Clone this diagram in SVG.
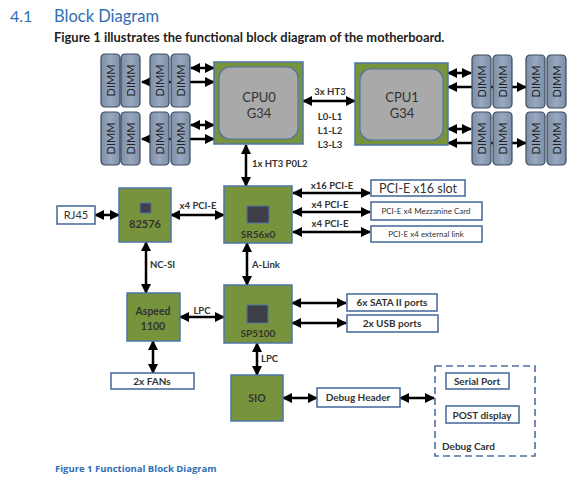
<svg xmlns="http://www.w3.org/2000/svg" width="587" height="480" viewBox="0 0 587 480">
<defs>
<marker id="ah" markerUnits="userSpaceOnUse" markerWidth="10" markerHeight="10" refX="9" refY="5" orient="auto-start-reverse" viewBox="0 0 10 10">
<path d="M0,0 L10,5 L0,10 z" fill="#000"/>
</marker>
<linearGradient id="dg" x1="0" y1="0" x2="1" y2="0">
<stop offset="0" stop-color="#7d8ea8"/>
<stop offset="0.5" stop-color="#98a8bf"/>
<stop offset="1" stop-color="#7d8ea8"/>
</linearGradient>
<g id="dimm">
<rect x="0" y="0" width="19" height="53" rx="4" fill="url(#dg)" stroke="#3c4a5e" stroke-width="1.2"/>
<text x="0" y="0" transform="translate(13.5,26.5) rotate(-90)" text-anchor="middle" class="dt">DIMM</text>
</g>
</defs>
<style>
.t{font-family:Lato,"Open Sans","Liberation Sans",sans-serif;fill:#333}
.b{font-weight:bold}
.dt{font-family:Lato,"Open Sans","Liberation Sans",sans-serif;font-size:11px;fill:#222}
.grn{fill:#77933c;stroke:#4f75a8;stroke-width:1.5}
.box{fill:#fff;stroke:#4f6fa0;stroke-width:1.6}
.chip{fill:#3f3f4a;stroke:#4f75a8;stroke-width:1}
.ln{stroke:#000;stroke-width:2.5;fill:none}
.hd{font-family:Lato,"Open Sans",sans-serif;fill:#2f6db5}
</style>
<rect width="587" height="480" fill="#fff"/>
<text x="10" y="22" class="hd" font-size="16">4.1</text>
<text x="54" y="22" class="hd" font-size="16.5">Block Diagram</text>
<text x="54" y="42" font-family="Lato,'Open Sans',sans-serif" font-size="12.9" font-weight="bold" fill="#222">Figure 1 illustrates the functional block diagram of the motherboard.</text>

<g id="connectors">
<line class="ln" x1="191" y1="68" x2="214" y2="68" marker-start="url(#ah)" marker-end="url(#ah)"/>
<line class="ln" x1="142" y1="82" x2="214" y2="82" marker-start="url(#ah)" marker-end="url(#ah)"/>
<line class="ln" x1="191" y1="125" x2="214" y2="125" marker-start="url(#ah)" marker-end="url(#ah)"/>
<line class="ln" x1="142" y1="139" x2="214" y2="139" marker-start="url(#ah)" marker-end="url(#ah)"/>
<line class="ln" x1="448" y1="73" x2="471" y2="73" marker-start="url(#ah)" marker-end="url(#ah)"/>
<line class="ln" x1="448" y1="87" x2="526" y2="87" marker-start="url(#ah)" marker-end="url(#ah)"/>
<line class="ln" x1="448" y1="129" x2="471" y2="129" marker-start="url(#ah)" marker-end="url(#ah)"/>
<line class="ln" x1="448" y1="143" x2="526" y2="143" marker-start="url(#ah)" marker-end="url(#ah)"/>
<line class="ln" x1="303" y1="101" x2="355" y2="101" marker-start="url(#ah)" marker-end="url(#ah)"/>
<line class="ln" x1="246" y1="145" x2="246" y2="186" marker-start="url(#ah)" marker-end="url(#ah)"/>
<line class="ln" x1="95" y1="215" x2="119" y2="215" marker-start="url(#ah)" marker-end="url(#ah)"/>
<line class="ln" x1="171" y1="215" x2="224" y2="215" marker-start="url(#ah)" marker-end="url(#ah)"/>
<line class="ln" x1="293" y1="193" x2="370" y2="193" marker-start="url(#ah)" marker-end="url(#ah)"/>
<line class="ln" x1="293" y1="212" x2="370" y2="212" marker-start="url(#ah)" marker-end="url(#ah)"/>
<line class="ln" x1="293" y1="232" x2="370" y2="232" marker-start="url(#ah)" marker-end="url(#ah)"/>
<line class="ln" x1="146" y1="242" x2="146" y2="293" marker-start="url(#ah)" marker-end="url(#ah)"/>
<line class="ln" x1="247" y1="243" x2="247" y2="285" marker-start="url(#ah)" marker-end="url(#ah)"/>
<line class="ln" x1="180" y1="317" x2="224" y2="317" marker-start="url(#ah)" marker-end="url(#ah)"/>
<line class="ln" x1="153" y1="341" x2="153" y2="373" marker-start="url(#ah)" marker-end="url(#ah)"/>
<line class="ln" x1="257" y1="343" x2="257" y2="375" marker-start="url(#ah)" marker-end="url(#ah)"/>
<line class="ln" x1="292" y1="303" x2="346" y2="303" marker-start="url(#ah)" marker-end="url(#ah)"/>
<line class="ln" x1="292" y1="323" x2="346" y2="323" marker-start="url(#ah)" marker-end="url(#ah)"/>
<line class="ln" x1="283" y1="398" x2="317" y2="398" marker-start="url(#ah)" marker-end="url(#ah)"/>
<line class="ln" x1="400" y1="398" x2="434" y2="398" marker-start="url(#ah)" marker-end="url(#ah)"/>
</g>

<g id="connector-labels" class="t b" font-size="9.5">
<text x="330" y="95" text-anchor="middle">3x HT3</text>
<text x="330" y="120" text-anchor="middle">L0-L1</text>
<text x="330" y="134" text-anchor="middle">L1-L2</text>
<text x="330" y="148" text-anchor="middle">L3-L3</text>
<text x="252" y="167">1x HT3 P0L2</text>
<text x="198" y="209" text-anchor="middle">x4 PCI-E</text>
<text x="332" y="189" text-anchor="middle">x16 PCI-E</text>
<text x="330" y="208" text-anchor="middle">x4 PCI-E</text>
<text x="330" y="227" text-anchor="middle">x4 PCI-E</text>
<text x="150" y="268">NC-SI</text>
<text x="252" y="268">A-Link</text>
<text x="202" y="314" text-anchor="middle">LPC</text>
<text x="261" y="362">LPC</text>
</g>

<g id="dimms-left">
<use href="#dimm" x="101" y="54"/><use href="#dimm" x="121" y="54"/>
<use href="#dimm" x="150" y="54"/><use href="#dimm" x="171" y="54"/>
<use href="#dimm" x="101" y="112"/><use href="#dimm" x="121" y="112"/>
<use href="#dimm" x="150" y="112"/><use href="#dimm" x="171" y="112"/>
</g>
<g id="dimms-right">
<use href="#dimm" x="472" y="55"/><use href="#dimm" x="493" y="55"/>
<use href="#dimm" x="526" y="55"/><use href="#dimm" x="547" y="55"/>
<use href="#dimm" x="472" y="112"/><use href="#dimm" x="493" y="112"/>
<use href="#dimm" x="526" y="112"/><use href="#dimm" x="547" y="112"/>
</g>

<g id="cpu0">
<rect class="grn" x="214" y="62" width="89" height="82"/>
<rect x="219" y="67" width="79" height="72" rx="11" fill="#a9a9a9" stroke="#4f75a8" stroke-width="1.2"/>
<text class="t" x="259" y="102" text-anchor="middle" font-size="13">CPU0</text>
<text class="t" x="259" y="118" text-anchor="middle" font-size="13">G34</text>
</g>
<g id="cpu1">
<rect class="grn" x="355" y="63" width="93" height="82"/>
<rect x="360" y="69" width="83" height="71" rx="11" fill="#a9a9a9" stroke="#4f75a8" stroke-width="1.2"/>
<text class="t" x="402" y="102" text-anchor="middle" font-size="13">CPU1</text>
<text class="t" x="402" y="118" text-anchor="middle" font-size="13">G34</text>
</g>

<g id="sr56x0">
<rect class="grn" x="224" y="186" width="68" height="57"/>
<rect class="chip" x="247" y="206" width="22" height="17"/>
<text class="t b" x="258" y="238" text-anchor="middle" font-size="10">SR56x0</text>
</g>
<g id="n82576">
<rect class="grn" x="119" y="188" width="52" height="54"/>
<rect class="chip" x="140" y="203" width="11" height="10"/>
<text class="t b" x="145" y="228" text-anchor="middle" font-size="11">82576</text>
</g>
<g id="rj45">
<rect class="box" x="57" y="206" width="38" height="18"/>
<text class="t" x="76" y="219" text-anchor="middle" font-size="11">RJ45</text>
</g>

<g id="pcie-x16">
<rect class="box" x="371" y="180" width="94" height="16"/>
<text class="t" x="418" y="193" text-anchor="middle" font-size="12.5">PCI-E x16 slot</text>
</g>
<g id="pcie-mezz">
<rect class="box" x="371" y="202" width="111" height="18"/>
<text class="t" x="426" y="214" text-anchor="middle" font-size="8">PCI-E x4 Mezzanine Card</text>
</g>
<g id="pcie-ext">
<rect class="box" x="371" y="226" width="111" height="16"/>
<text class="t" x="426" y="237" text-anchor="middle" font-size="8">PCI-E x4 external link</text>
</g>

<g id="aspeed">
<rect class="grn" x="127" y="293" width="53" height="48"/>
<text class="t b" x="153" y="315" text-anchor="middle" font-size="10.5">Aspeed</text>
<text class="t b" x="153" y="330" text-anchor="middle" font-size="10.5">1100</text>
</g>
<g id="sp5100">
<rect class="grn" x="224" y="285" width="68" height="58"/>
<rect class="chip" x="247" y="305" width="21" height="18"/>
<text class="t b" x="258" y="337" text-anchor="middle" font-size="10">SP5100</text>
</g>
<g id="fans">
<rect class="box" x="111" y="373" width="83" height="16"/>
<text class="t b" x="152" y="385" text-anchor="middle" font-size="10">2x FANs</text>
</g>
<g id="sata">
<rect class="box" x="347" y="294" width="90" height="17"/>
<text class="t b" x="392" y="306" text-anchor="middle" font-size="10">6x SATA II ports</text>
</g>
<g id="usb">
<rect class="box" x="347" y="315" width="91" height="17"/>
<text class="t b" x="392" y="327" text-anchor="middle" font-size="10">2x USB ports</text>
</g>
<g id="sio">
<rect class="grn" x="231" y="375" width="52" height="46"/>
<text class="t b" x="257" y="402" text-anchor="middle" font-size="10.5">SIO</text>
</g>
<g id="debug-header">
<rect class="box" x="317" y="388" width="83" height="19"/>
<text class="t b" x="358" y="401" text-anchor="middle" font-size="10">Debug Header</text>
</g>
<g id="debug-card">
<rect x="435" y="366" width="100" height="90" fill="none" stroke="#4f6fa0" stroke-width="1.6" stroke-dasharray="7,4"/>
<text class="t b" x="442" y="450" font-size="10">Debug Card</text>
</g>
<g id="serial-port">
<rect class="box" x="446" y="373" width="63" height="16"/>
<text class="t b" x="477" y="385" text-anchor="middle" font-size="10">Serial Port</text>
</g>
<g id="post-display">
<rect class="box" x="446" y="406" width="73" height="17"/>
<text class="t b" x="482" y="419" text-anchor="middle" font-size="10">POST display</text>
</g>

<text x="55" y="472" font-family="'Open Sans','Noto Sans',sans-serif" font-size="9.5" font-weight="bold" fill="#2f6db5">Figure 1  Functional Block Diagram</text>
</svg>
